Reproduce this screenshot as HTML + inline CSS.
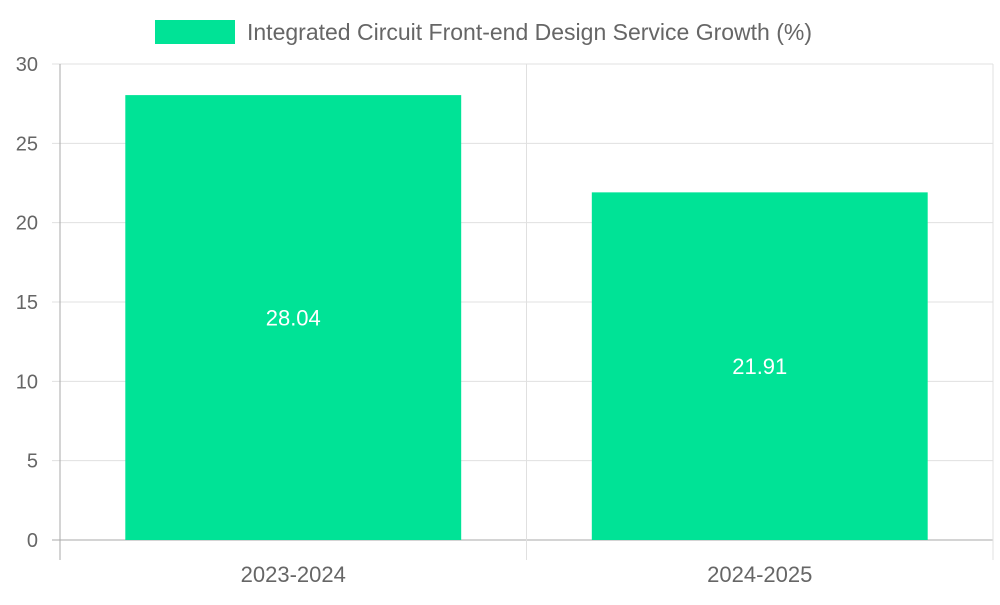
<!DOCTYPE html>
<html><head><meta charset="utf-8"><style>
html,body{margin:0;padding:0;background:#fff;}
svg text{font-family:"Liberation Sans",sans-serif;}
</style></head><body>
<svg id="chart" width="1000" height="600">
<g id="grid"></g><g id="bars"></g><g id="labels"></g>
<rect x="155" y="20" width="80" height="24" fill="#00e396"/>
<text x="247" y="40" font-size="23" fill="#666">Integrated Circuit Front-end Design Service Growth (%)</text>
</svg>
<script>
const categories = ["2023-2024","2024-2025"];
const values = [28.04, 21.91];
const yTicks = [0,5,10,15,20,25,30];
const NS="http://www.w3.org/2000/svg";
const L=60,R=993,T=64,B=540,yMax=30;
const y=v=>B-(v/yMax)*(B-T);
const cw=(R-L)/categories.length;
const xc=i=>L+cw*(i+0.5);
function mk(tag,attrs,parent){const e=document.createElementNS(NS,tag);for(const k in attrs)e.setAttribute(k,attrs[k]);parent.appendChild(e);return e;}
const grid=document.getElementById('grid'),bars=document.getElementById('bars'),labels=document.getElementById('labels');
yTicks.forEach(t=>{
  const ln=mk('line',{x1:L-8,x2:R,y1:y(t),y2:y(t),stroke:t===0?'#aaa':'#e0e0e0','stroke-width':1},grid);
  
  
  const tx=mk('text',{x:L-22,y:y(t)+7,'font-size':20,fill:'#666','text-anchor':'end'},labels);
  tx.textContent=t;
  
  
});
for(let i=0;i<=categories.length;i++){
  const gx=L+cw*i;
  const ln=mk('line',{x1:gx,x2:gx,y1:T,y2:B+20,stroke:i===0?'#aaa':'#e0e0e0','stroke-width':1},grid);
  
  
}
categories.forEach((c,i)=>{
  const bw=cw*0.72;
  const r=mk('rect',{x:xc(i)-bw/2,y:y(values[i]),width:bw,height:B-y(values[i]),fill:'#00e396'},bars);
  
  
  const v=mk('text',{x:xc(i),y:(y(values[i])+B)/2+8,'font-size':22,fill:'#fff','text-anchor':'middle'},labels);
  v.textContent=values[i].toFixed(2);
  
  
  const xl=mk('text',{x:xc(i),y:582,'font-size':22,fill:'#666','text-anchor':'middle'},labels);
  xl.textContent=c;
  
  
});
</script>
</body></html>
